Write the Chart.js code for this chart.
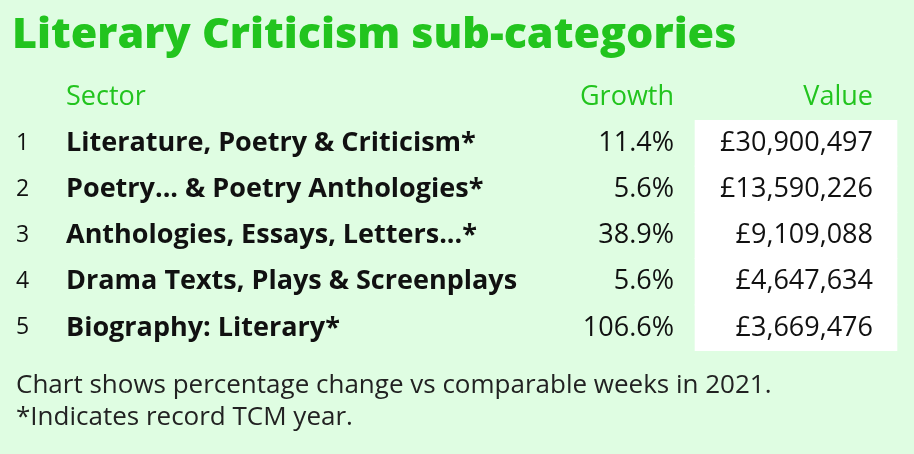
<!DOCTYPE html>
<html><head><meta charset="utf-8">
<script src="https://cdn.jsdelivr.net/npm/chart.js@4"></script>
<style>html,body{margin:0;padding:0;background:#dffde2;}#wrap{width:914px;height:454px;}</style>
</head><body><div id="wrap"><canvas id="c" width="914" height="454"></canvas></div>
<script>
const title = 'Literary Criticism sub-categories';
const headers = ['Sector', 'Growth', 'Value'];
const ranks = ['1', '2', '3', '4', '5'];
const sectors = ['Literature, Poetry & Criticism*', 'Poetry... & Poetry Anthologies*', 'Anthologies, Essays, Letters...*', 'Drama Texts, Plays & Screenplays', 'Biography: Literary*'];
const growth = ['11.4%', '5.6%', '38.9%', '5.6%', '106.6%'];
const values = ['£30,900,497', '£13,590,226', '£9,109,088', '£4,647,634', '£3,669,476'];
const notes = ['Chart shows percentage change vs comparable weeks in 2021.', '*Indicates record TCM year.'];

const green = '#22c41e';
const font = '"Open Sans", sans-serif';

const tableText = {
  id: 'tableText',
  afterDatasetsDraw(chart) {
    const ctx = chart.ctx, y = chart.scales.y;
    ctx.save();
    ctx.textBaseline = 'middle';
    ctx.fillStyle = green;
    ctx.font = '800 43px ' + font;
    ctx.textAlign = 'left';
    ctx.fillText(title, 12, 36);
    ctx.font = '27px ' + font;
    ctx.fillText(headers[0], 66, 97);
    ctx.textAlign = 'right';
    ctx.fillText(headers[1], 674, 97);
    ctx.fillText(headers[2], 873, 97);
    ranks.forEach((r, i) => {
      const py = y.getPixelForValue(i);
      ctx.fillStyle = '#111';
      ctx.textAlign = 'left';
      ctx.font = '23px ' + font;
      ctx.fillText(r, 16, py);
      ctx.font = 'bold 27px ' + font;
      ctx.fillText(sectors[i], 66, py);
      ctx.font = '27px ' + font;
      ctx.textAlign = 'right';
      ctx.fillText(growth[i], 674, py);
      ctx.fillText(values[i], 873, py);
    });
    ctx.textAlign = 'left';
    ctx.font = '26px ' + font;
    ctx.fillStyle = '#222';
    notes.forEach((n, i) => ctx.fillText(n, 16, 386 + i * 32));
    ctx.restore();
  }
};

new Chart(document.getElementById('c'), {
  type: 'bar',
  data: {
    labels: ranks,
    datasets: [{
      data: ranks.map(() => [695, 897]),
      backgroundColor: '#ffffff',
      barPercentage: 1,
      categoryPercentage: 1
    }]
  },
  options: {
    indexAxis: 'y',
    responsive: false,
    animation: false,
    layout: { padding: { top: 120, bottom: 103, left: 0, right: 0 } },
    plugins: { legend: { display: false }, tooltip: { enabled: false } },
    scales: {
      x: { display: false, min: 0, max: 914 },
      y: { display: false }
    }
  },
  plugins: [tableText]
});
</script></body></html>
